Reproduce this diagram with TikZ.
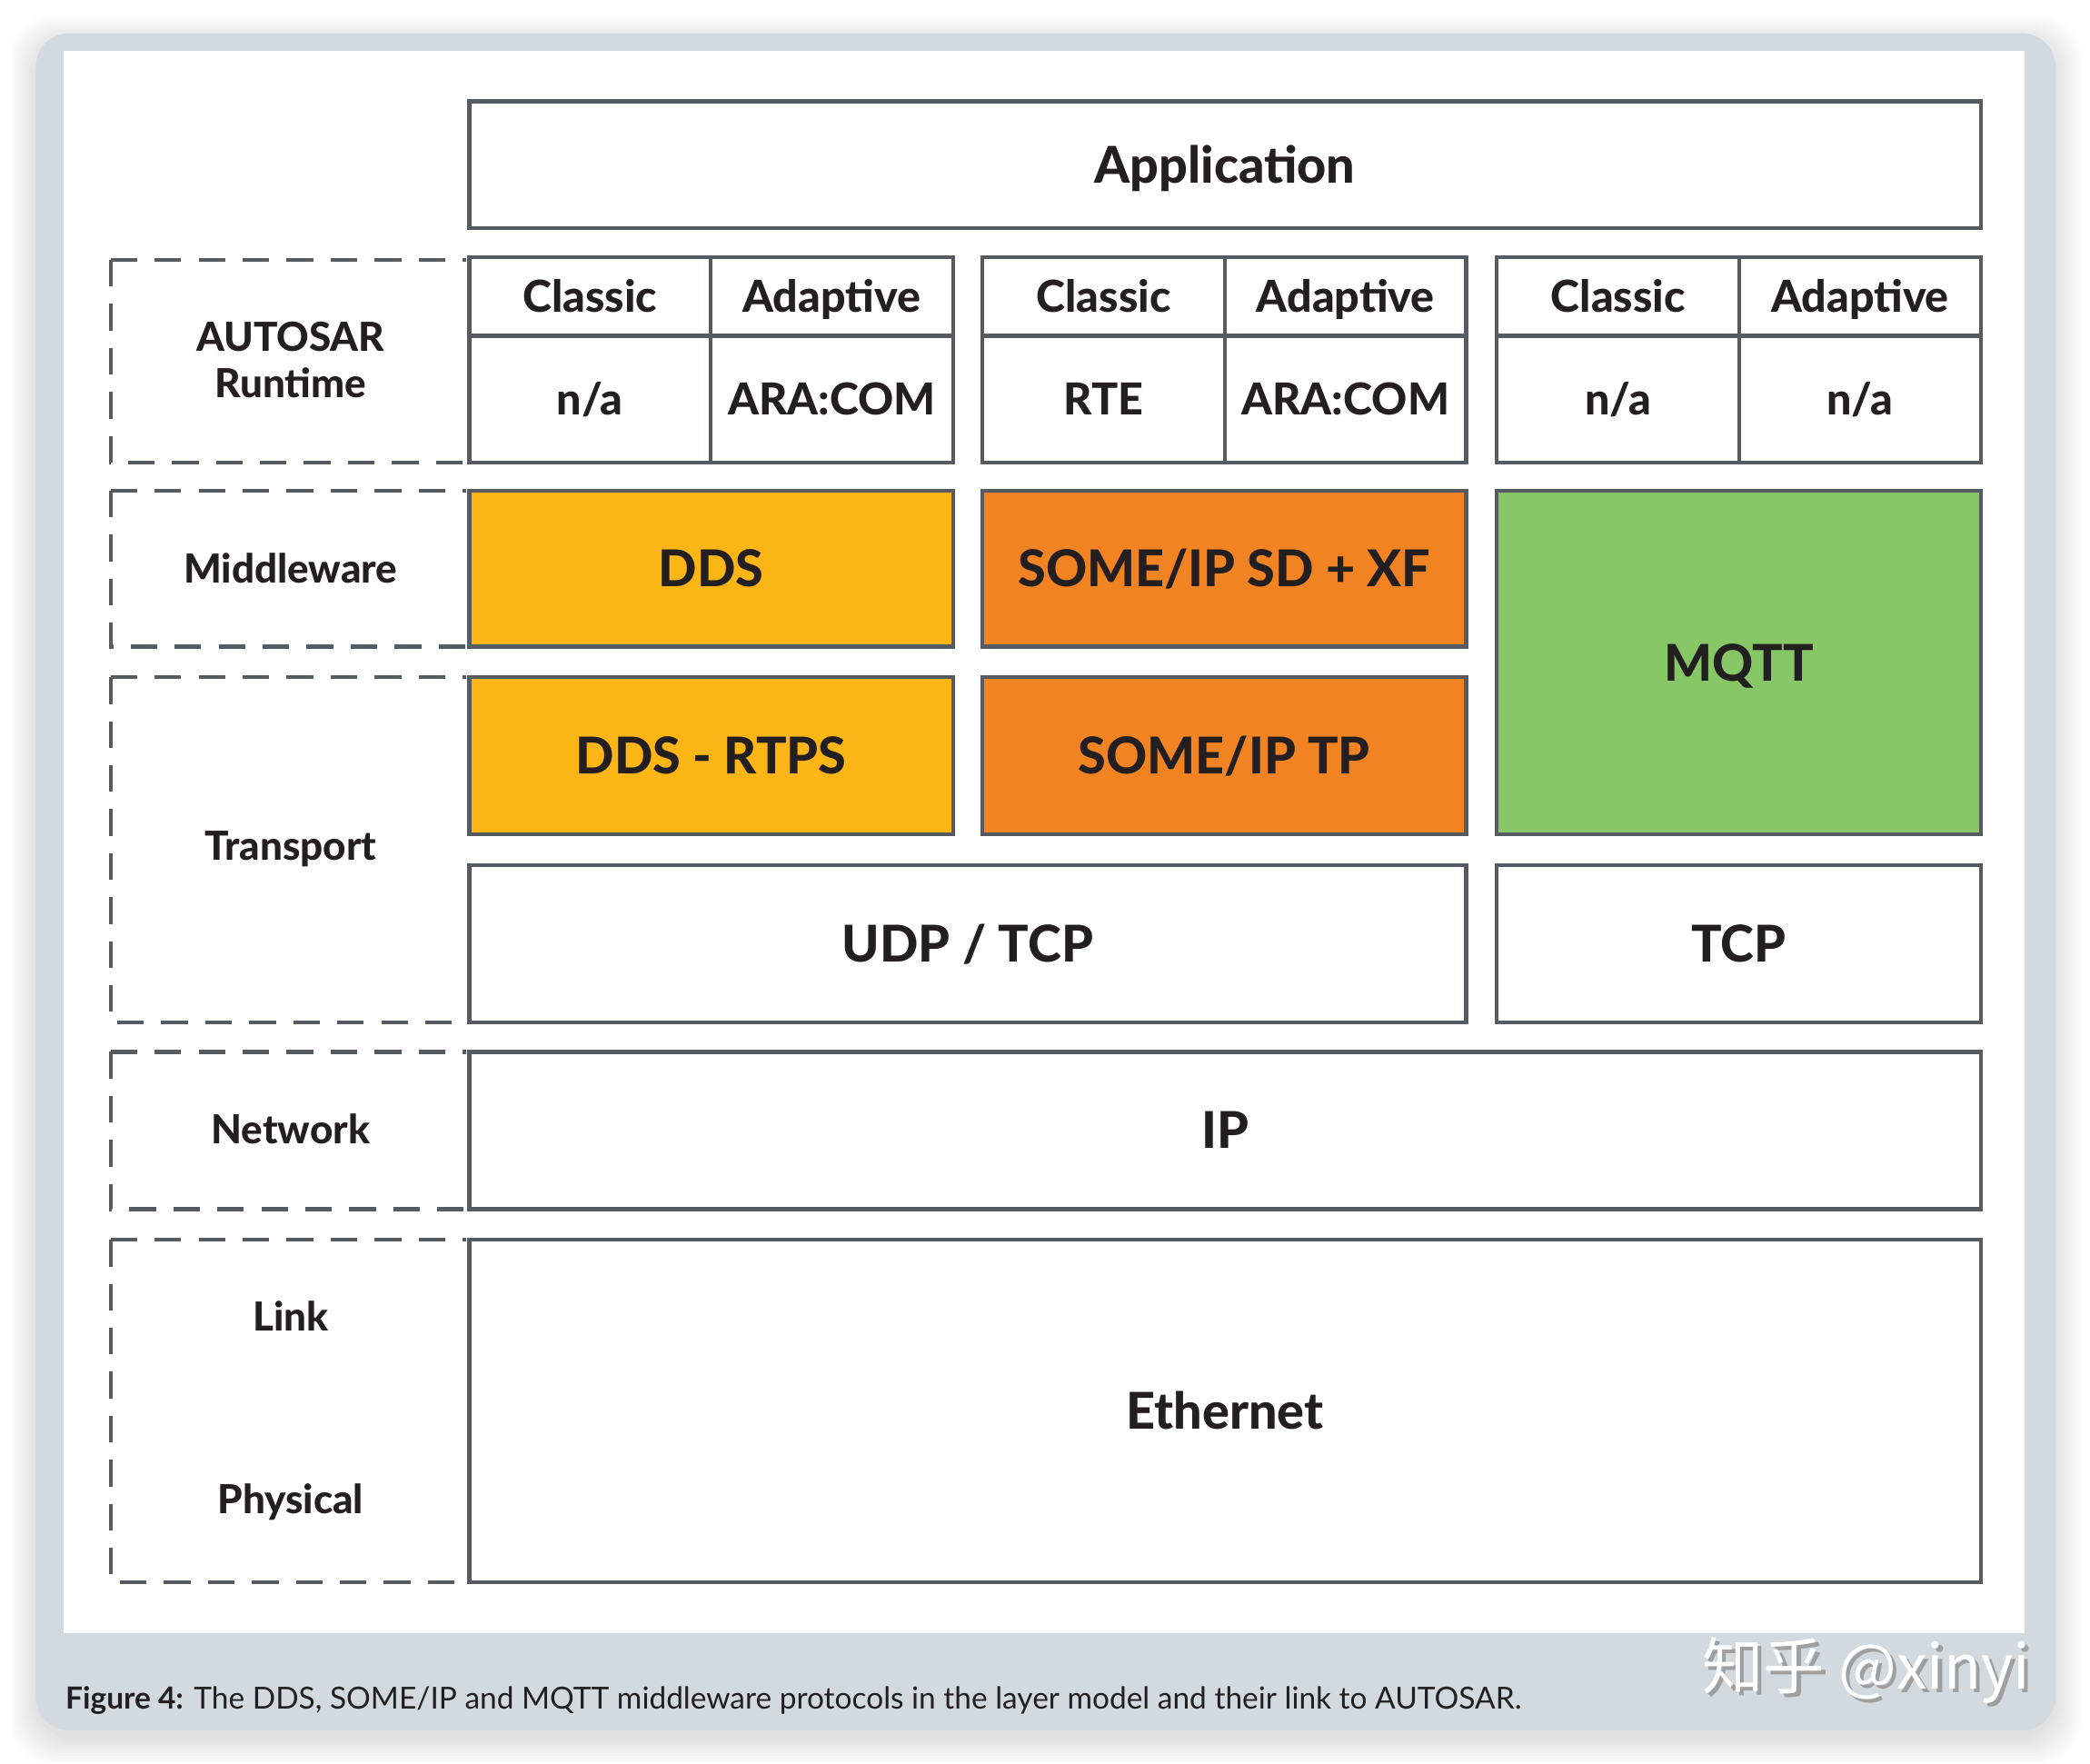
\documentclass[tikz,border=0pt]{standalone}
\usepackage{fontspec}
\setmainfont{Lato}
\newfontfamily\heavy{Lato Heavy}
\newfontfamily\cjkfont{Noto Sans CJK SC}
\definecolor{lineg}{HTML}{555B60}
\definecolor{frameg}{HTML}{D2D9DF}
\definecolor{ddsy}{HTML}{FBB616}
\definecolor{someo}{HTML}{F28323}
\definecolor{mqttg}{HTML}{88C766}
\definecolor{txt}{HTML}{231F20}
\begin{document}
\begin{tikzpicture}[x=1pt,y=-1pt,
  box/.style={draw=lineg, line width=3pt, inner sep=0pt, outer sep=0pt, anchor=north west, text=txt, text height=27.4pt, text depth=0pt, font=\heavy\fontsize{38}{42}\selectfont},
  cell/.style={box, text height=23.8pt, font=\heavy\fontsize{33}{36}\selectfont},
  lbl/.style={text=txt, font=\heavy\fontsize{30}{35}\selectfont, align=center, inner sep=0pt},
  dashbr/.style={draw=lineg, line width=3pt, dash pattern=on 20pt off 13pt}
]
\useasboundingbox (0,0) rectangle (1568,1323);
\fill[white] (0,0) rectangle (1568,1323);
% soft shadow
\foreach \d in {1,3,...,19}{
  \fill[black, opacity=0.012, rounded corners=30pt] (27-\d,25-\d+6) rectangle (1542+\d,1298+\d+6);
}
\fill[frameg, rounded corners=25pt] (27,25) rectangle (1542,1298);
\fill[white] (48,38) rectangle (1519,1225);

% Application
\node[box, minimum width=1134pt, minimum height=95pt] (app) at (352,76) {Application};

% AUTOSAR runtime cells
\node[cell, minimum width=181pt, minimum height=59pt] (c1h) at (352,193) {Classic};
\node[cell, minimum width=182pt, minimum height=59pt] (a1h) at (533,193) {Adaptive};
\node[cell, minimum width=181pt, minimum height=95pt] (c1b) at (352,252) {n/a};
\node[cell, minimum width=182pt, minimum height=95pt] (a1b) at (533,252) {ARA:COM};

\node[cell, minimum width=182pt, minimum height=59pt] (c2h) at (737,193) {Classic};
\node[cell, minimum width=181pt, minimum height=59pt] (a2h) at (919,193) {Adaptive};
\node[cell, minimum width=182pt, minimum height=95pt] (c2b) at (737,252) {RTE};
\node[cell, minimum width=181pt, minimum height=95pt] (a2b) at (919,252) {ARA:COM};

\node[cell, minimum width=182pt, minimum height=59pt] (c3h) at (1123,193) {Classic};
\node[cell, minimum width=181pt, minimum height=59pt] (a3h) at (1305,193) {Adaptive};
\node[cell, minimum width=182pt, minimum height=95pt] (c3b) at (1123,252) {n/a};
\node[cell, minimum width=181pt, minimum height=95pt] (a3b) at (1305,252) {n/a};

% Middleware / transport
\node[box, fill=ddsy, minimum width=363pt, minimum height=117pt] (dds) at (352,368) {DDS};
\node[box, fill=someo, minimum width=363pt, minimum height=117pt] (sd) at (737,368) {SOME/IP SD + XF};
\node[box, fill=mqttg, minimum width=363pt, minimum height=258pt] (mqtt) at (1123,368) {MQTT};
\node[box, fill=ddsy, minimum width=363pt, minimum height=118pt] (rtps) at (352,508) {DDS - RTPS};
\node[box, fill=someo, minimum width=363pt, minimum height=118pt] (tp) at (737,508) {SOME/IP TP};
\node[box, minimum width=748pt, minimum height=118pt] (udp) at (352,649) {UDP / TCP};
\node[box, minimum width=363pt, minimum height=118pt] (tcp) at (1123,649) {TCP};
\node[box, minimum width=1134pt, minimum height=118pt] (ip) at (352,789) {IP};
\node[box, minimum width=1134pt, minimum height=257pt] (eth) at (352,930) {Ethernet};

% dashed brackets
\draw[dashbr] (83,195) -- (350,195);
\draw[dashbr] (83,195) -- (83,347) -- (350,347);
\draw[dashbr] (83,368) -- (350,368);
\draw[dashbr] (83,368) -- (83,485) -- (350,485);
\draw[dashbr] (83,508) -- (350,508);
\draw[dashbr] (83,508) -- (83,767) -- (350,767);
\draw[dashbr] (83,789) -- (350,789);
\draw[dashbr] (83,789) -- (83,907) -- (350,907);
\draw[dashbr] (83,930) -- (350,930);
\draw[dashbr] (83,930) -- (83,1187) -- (350,1187);

% layer labels
\node[lbl] (lauto) at (218,270) {AUTOSAR\\Runtime};
\node[lbl] (lmid) at (218,426) {Middleware};
\node[lbl] (ltra) at (218,637) {Transport};
\node[lbl] (lnet) at (218,847) {Network};
\node[lbl] (llink) at (218,987) {Link};
\node[lbl] (lphy) at (218,1127) {Physical};

% caption
\node[anchor=base west, inner sep=0pt, text=txt, font=\fontsize{22.8}{26}\selectfont] (cap) at (49,1282)
  {\textbf{Figure 4:} The DDS, SOME/IP and MQTT middleware protocols in the layer model and their link to AUTOSAR.};

% watermark
\node[inner sep=0pt, text=gray!75, font=\cjkfont\fontsize{46}{50}\selectfont] (wms) at (1403,1256) {知乎 @xinyi};
\node[inner sep=0pt, text=white, font=\cjkfont\fontsize{46}{50}\selectfont] (wm) at (1400,1253) {知乎 @xinyi};
\end{tikzpicture}
\end{document}
